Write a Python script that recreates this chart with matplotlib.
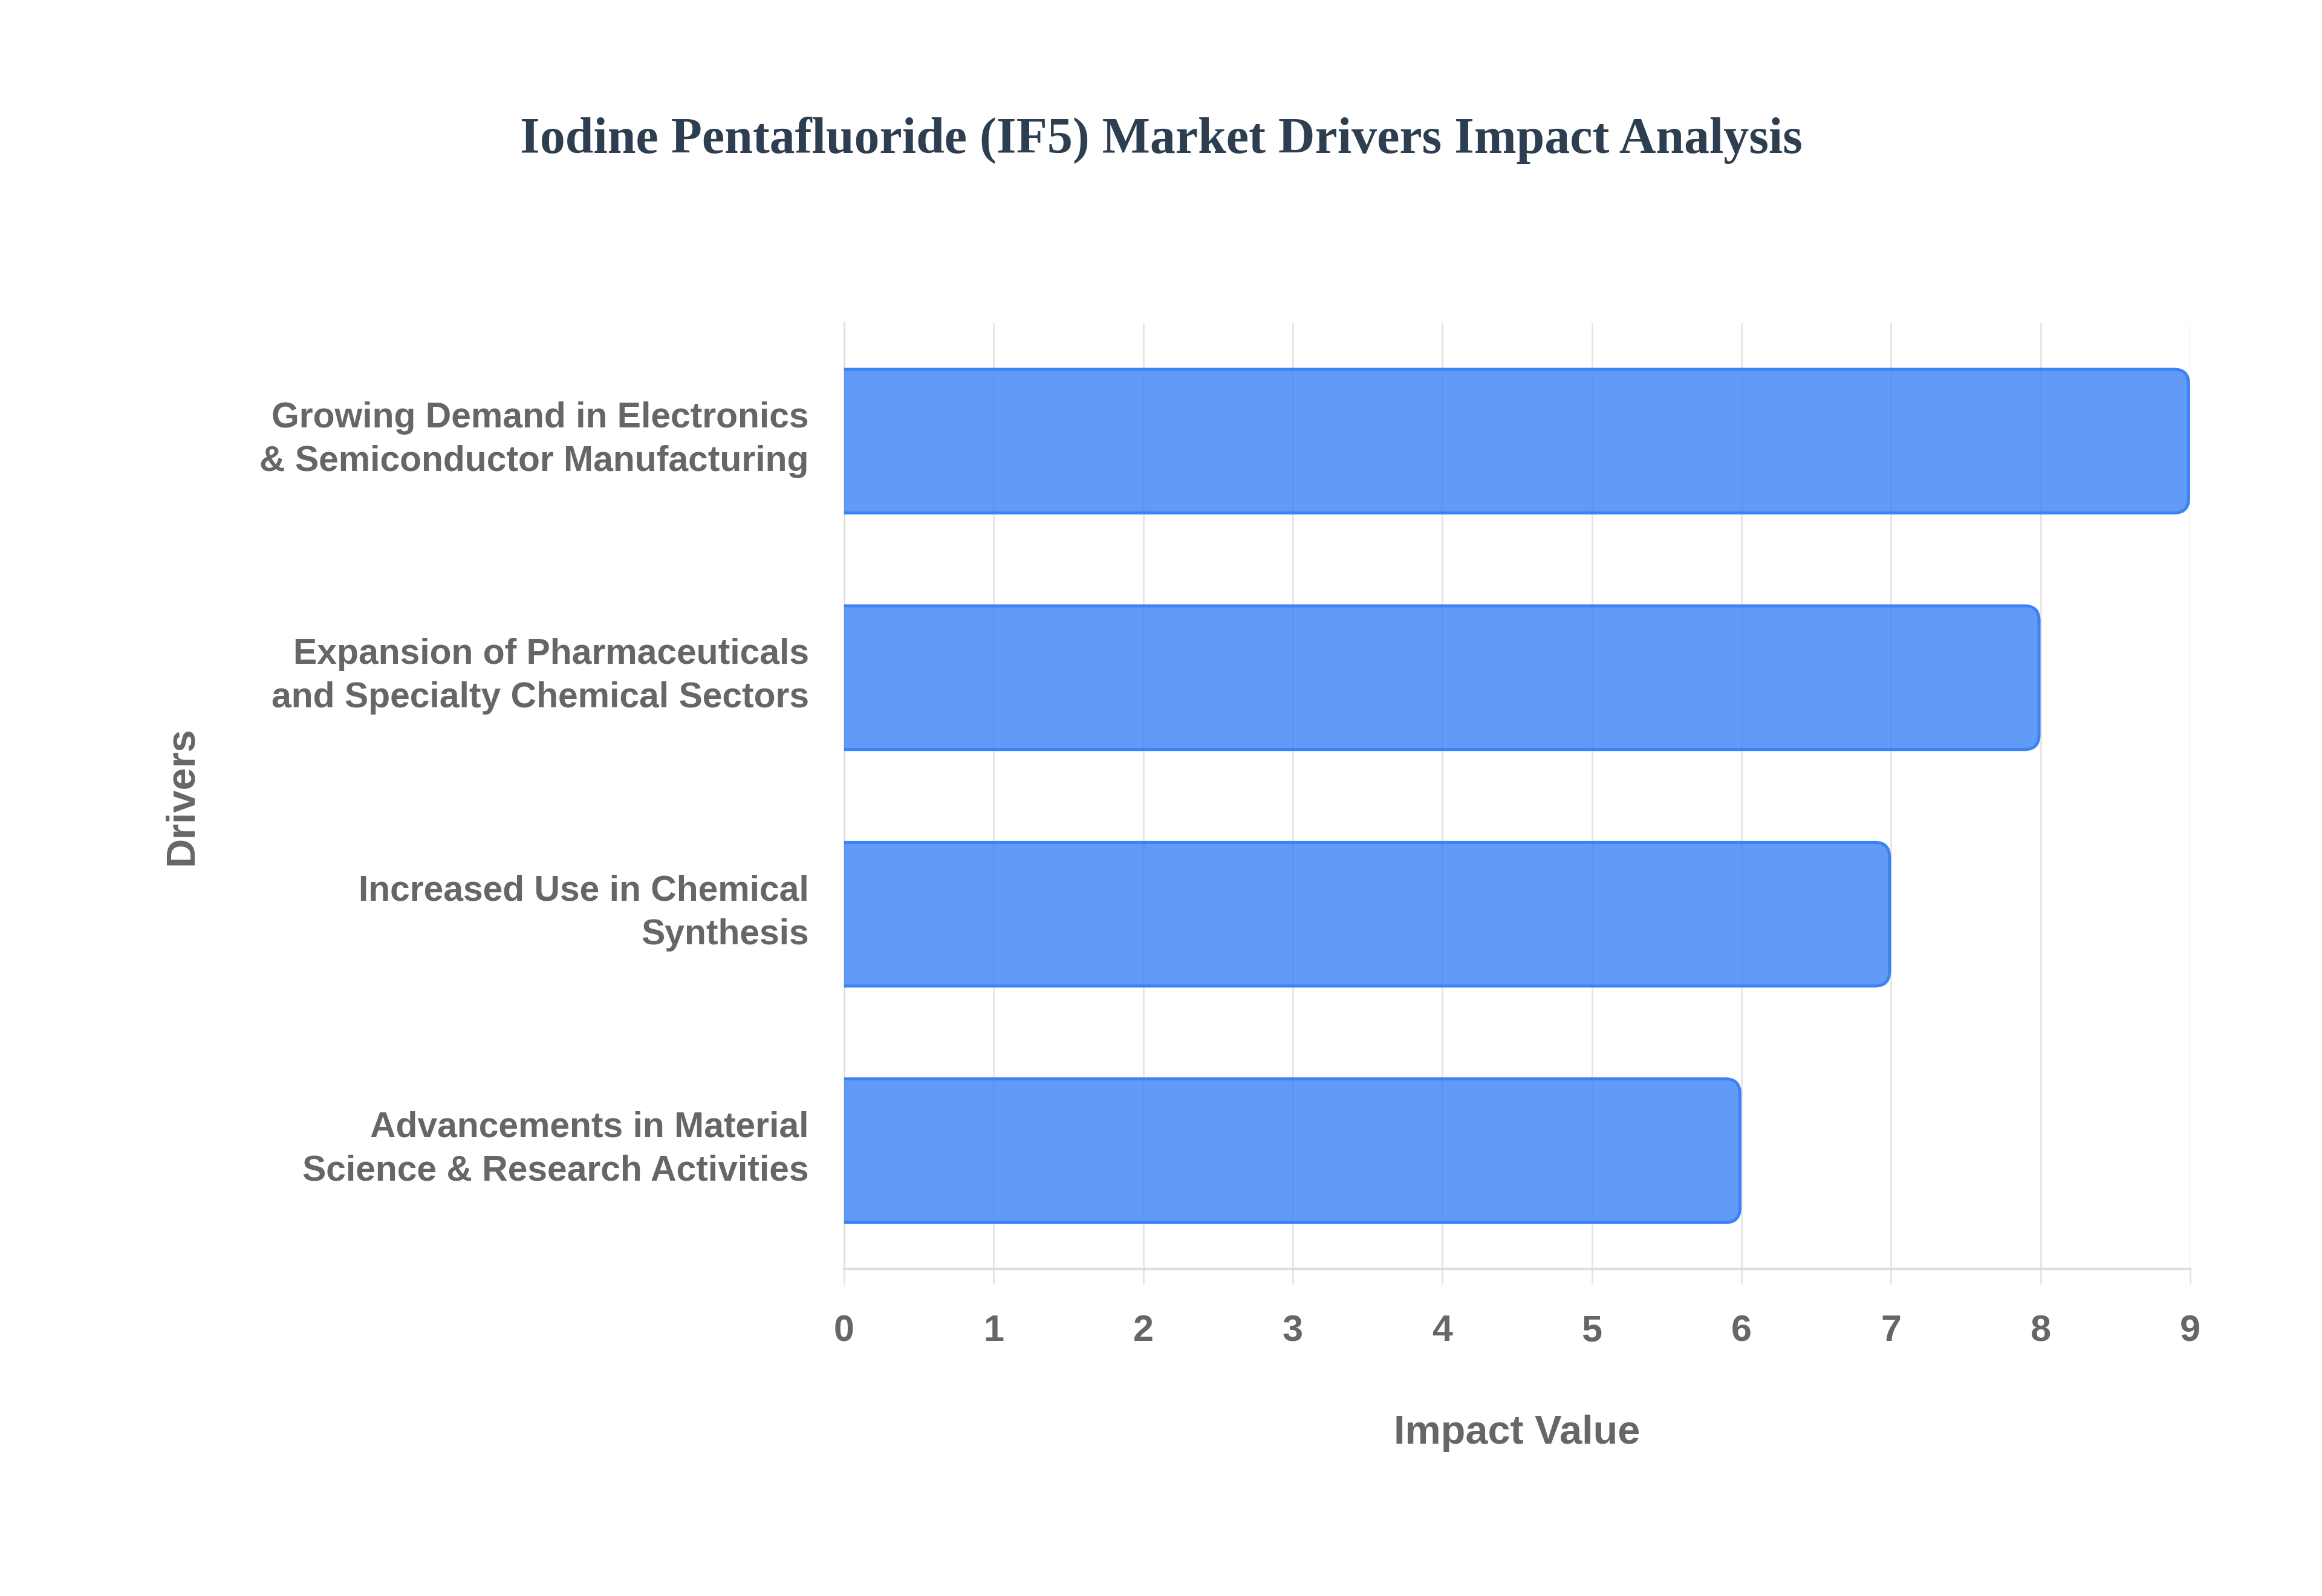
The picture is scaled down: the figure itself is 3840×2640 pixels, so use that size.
import matplotlib
matplotlib.use("Agg")
import matplotlib.pyplot as plt
import matplotlib.transforms as mtransforms
from matplotlib.path import Path
from matplotlib.patches import PathPatch

categories = [
    "Growing Demand in Electronics\n& Semiconductor Manufacturing",
    "Expansion of Pharmaceuticals\nand Specialty Chemical Sectors",
    "Increased Use in Chemical\nSynthesis",
    "Advancements in Material\nScience & Research Activities",
]
values = [9, 8, 7, 6]
x_ticks = [0, 1, 2, 3, 4, 5, 6, 7, 8, 9]

title = "Iodine Pentafluoride (IF5) Market Drivers Impact Analysis"
x_label = "Impact Value"
y_label = "Drivers"

FILL = "#3B82F6"
EDGE = "#3B82F6"
TEXT = "#666666"
GRID = "#e5e5e5"

fig = plt.figure(figsize=(19.2, 13.2), dpi=200)
ax = fig.add_axes([0.3635, 0.2049, 0.5797, 0.5928])

ypos = list(range(len(categories)))
bars = ax.barh(ypos, values, height=0.62, color="none", edgecolor="none")
ax.set_xlim(0, 9)
ax.set_ylim(len(categories) - 0.5, -0.5)
fig.canvas.draw()

# convert corner radius (pixels) to data units
px_per_x = ax.transData.transform((1, 0))[0] - ax.transData.transform((0, 0))[0]
px_per_y = abs(ax.transData.transform((0, 1))[1] - ax.transData.transform((0, 0))[1])
r_px = 24
lw_px = 5
rx = r_px / px_per_x
ry = r_px / px_per_y
ix = (lw_px / 2) / px_per_x
iy = (lw_px / 2) / px_per_y

for b in bars:
    x0 = b.get_x()
    w = b.get_width()
    y0 = b.get_y()
    h = b.get_height()
    yt, yb = y0 + iy, y0 + h - iy
    x1 = x0 + w - ix
    verts = [
        (x0, yt), (x1 - rx, yt), (x1, yt), (x1, yt + ry),
        (x1, yb - ry), (x1, yb), (x1 - rx, yb), (x0, yb),
    ]
    codes = [Path.MOVETO, Path.LINETO, Path.CURVE3, Path.CURVE3,
             Path.LINETO, Path.CURVE3, Path.CURVE3, Path.LINETO]
    fill_path = Path(verts + [(x0, yt)], codes + [Path.CLOSEPOLY])
    ax.add_patch(PathPatch(fill_path, facecolor=FILL, alpha=0.8, edgecolor="none", zorder=3))
    ax.add_patch(PathPatch(Path(verts, codes), facecolor="none", edgecolor=EDGE,
                           linewidth=lw_px * 72 / 200, zorder=4, capstyle="butt"))

ax.set_yticks(ypos)
ax.set_yticklabels(categories)
ax.set_xticks(x_ticks)
ax.set_xticklabels([str(t) for t in x_ticks])

ax.grid(axis="x", color=GRID, linewidth=1.0, zorder=0)
ax.set_axisbelow(True)
for s in ["top", "right"]:
    ax.spines[s].set_visible(False)
ax.spines["left"].set_color("#dddddd")
ax.spines["left"].set_linewidth(1.0)
ax.spines["bottom"].set_color("#dddddd")
ax.spines["bottom"].set_linewidth(1.5)

ax.tick_params(axis="x", length=9, width=1.0, color=GRID, pad=18,
               labelsize=22, labelcolor=TEXT)
ax.tick_params(axis="y", length=0, pad=21, labelsize=21.2, labelcolor=TEXT)
for lab in ax.get_xticklabels() + ax.get_yticklabels():
    lab.set_fontfamily("Liberation Sans")
    lab.set_fontweight("bold")
offset = mtransforms.ScaledTranslation(0, 6 / 72, fig.dpi_scale_trans)
for lab in ax.get_yticklabels():
    lab.set_linespacing(1.4)
    lab.set_transform(lab.get_transform() + offset)

ax.set_xlabel(x_label, fontsize=24, fontweight="bold", color=TEXT, family="Liberation Sans")
ax.xaxis.set_label_coords(0.5, -0.1738)
ax.xaxis.label.set_va("center")
ax.set_ylabel(y_label, fontsize=24, fontweight="bold", color=TEXT, family="Liberation Sans")
ax.yaxis.set_label_coords(-0.4919, 0.5)
ax.yaxis.label.set_va("center")

fig.text(0.5, 0.912, title, ha="center", va="center", fontsize=30.2,
         fontweight="bold", color="#2C3E50", family="Liberation Serif")

fig.savefig("out.png", dpi=200, facecolor="white")
